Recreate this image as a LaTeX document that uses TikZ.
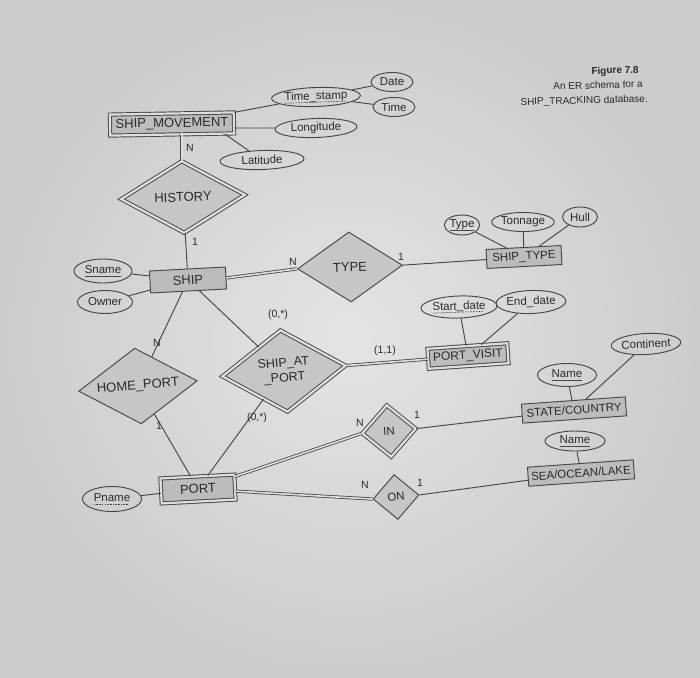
\documentclass[tikz,border=0pt]{standalone}
\usepackage{fontspec}
\setmainfont{Liberation Sans}
\usetikzlibrary{shapes.geometric}
\definecolor{bgc}{RGB}{222,222,224}
\definecolor{bgin}{RGB}{228,228,229}
\definecolor{bgout}{RGB}{204,204,208}
\definecolor{efill}{RGB}{188,188,190}
\definecolor{rfill}{RGB}{198,198,200}
\definecolor{lc}{RGB}{72,72,75}
\definecolor{tc}{RGB}{42,42,45}
\newcommand\dunder[1]{\setbox0\hbox{#1}\rlap{\raisebox{-2.6pt}{\hbox to \wd0{\color{lc}\leaders\hbox{\rule{1.6pt}{0.6pt}\hspace{1.1pt}}\hfill}}}\box0}
\newcommand\sunder[1]{\setbox0\hbox{#1}\rlap{\raisebox{-2.6pt}{\color{lc}\rule{\wd0}{0.6pt}}}\box0}
\tikzset{
  base/.style={draw=lc, line width=0.95pt, text=tc, inner sep=0pt},
  ent/.style={base, rectangle, fill=efill, font=\fontsize{13}{14}\selectfont},
  went/.style={ent, double=bgc, double distance=2.2pt},
  rel/.style={base, diamond, fill=rfill, aspect=1.6, font=\fontsize{13}{14}\selectfont},
  wrel/.style={rel, double=bgc, double distance=2.2pt},
  att/.style={base, ellipse, font=\fontsize{11.5}{13}\selectfont},
  card/.style={text=tc, inner sep=0pt, font=\fontsize{10.5}{12}\selectfont},
  capt/.style={text=tc, inner sep=0pt, anchor=base east, rotate=1.5, font=\fontsize{10}{12}\selectfont},
  ln/.style={draw=lc, line width=0.95pt},
  dln/.style={draw=lc, line width=0.8pt, double=bgc, double distance=1.6pt},
}
\begin{document}
\begin{tikzpicture}[x=1pt,y=-1pt]
\shade[inner color=bgin, outer color=bgout] (0,0) rectangle (700,677);
\useasboundingbox (0,0) rectangle (700,677);

% caption
\node[capt] (cap1) at (639,73) {\textbf{Figure 7.8}};
\node[capt] (cap2) at (643,87.5) {An ER schema for a};
\node[capt] (cap3) at (648,102) {SHIP\_TRACKING database.};

% entities
\node[went, minimum width=124, minimum height=21, rotate=1] (sm) at (172,124) {SHIP\_MOVEMENT};
\node[ent, minimum width=76, minimum height=22, rotate=3] (ship) at (188,280) {SHIP};
\node[ent, minimum width=75, minimum height=19, rotate=3, font=\fontsize{11.5}{12}\selectfont] (stype) at (524,257) {SHIP\_TYPE};
\node[went, minimum width=80, minimum height=20, rotate=4, font=\fontsize{12}{13}\selectfont] (pv) at (468,356) {PORT\_VISIT};
\node[went, minimum width=74, minimum height=25, rotate=3] (port) at (198,489) {PORT};
\node[ent, minimum width=104, minimum height=19, rotate=4, font=\fontsize{11.5}{12}\selectfont] (sc) at (574,410) {STATE/COUNTRY};
\node[ent, minimum width=106, minimum height=19, rotate=4, font=\fontsize{11.5}{12}\selectfont] (sol) at (581,473) {SEA/OCEAN/LAKE};

% relationships
\node[wrel, minimum width=124, minimum height=72, rotate=2] (hist) at (183,197) {HISTORY};
\node[rel, minimum width=105, minimum height=70, rotate=2] (type) at (350,267) {TYPE};
\node[wrel, minimum width=124, minimum height=82, rotate=5, align=center, font=\fontsize{12.5}{15}\selectfont] (sap) at (284,371) {SHIP\_AT\\\_PORT};
\node[rel, minimum width=119, minimum height=76, rotate=5] (hp) at (138,386) {HOME\_PORT};
\node[wrel, minimum width=54, minimum height=52, rotate=5, font=\fontsize{11.5}{12}\selectfont] (in) at (389,431) {IN};
\node[rel, minimum width=46, minimum height=45, rotate=5, font=\fontsize{11.5}{12}\selectfont] (on) at (396,497) {ON};

% attributes
\node[att, minimum width=86, minimum height=19, rotate=2] (ts) at (316,97) {\dunder{Time\_stamp}};
\node[att, minimum width=42, minimum height=19] (date) at (392,82) {Date};
\node[att, minimum width=42, minimum height=19] (time) at (394,107) {Time};
\node[att, minimum width=82, minimum height=19, rotate=2] (lon) at (316,128) {Longitude};
\node[att, minimum width=84, minimum height=19, rotate=2] (lat) at (262,160) {Latitude};
\node[att, minimum width=58, minimum height=24] (sname) at (103,271) {\sunder{Sname}};
\node[att, minimum width=55, minimum height=23] (owner) at (105,302) {Owner};
\node[att, minimum width=34, minimum height=20] (tty) at (462,225) {\sunder{Type}};
\node[att, minimum width=57, minimum height=19] (ton) at (523,222) {Tonnage};
\node[att, minimum width=35, minimum height=20] (hull) at (580,217) {Hull};
\node[att, minimum width=76, minimum height=22, rotate=2] (sd) at (459,307) {\dunder{Start\_date}};
\node[att, minimum width=57, minimum height=23, rotate=2] (ed) at (531,302) {End\_date};
\node[att, minimum width=56, minimum height=21, rotate=3] (cont) at (646,344) {Continent};
\node[att, minimum width=59, minimum height=23] (n1) at (567,375) {\sunder{Name}};
\node[att, minimum width=60, minimum height=20] (n2) at (575,441) {\sunder{Name}};
\node[att, minimum width=59, minimum height=25] (pname) at (112,499) {\dunder{Pname}};

% connectors
\draw[ln] (sm) -- (ts);
\draw[ln] (ts) -- (date);
\draw[ln] (ts) -- (time);
\draw[ln] (sm.east |- lon) -- (lon);
\draw[ln] ([xshift=-10pt]sm.south east) -- (lat);
\path[dln] (hist.north |- sm.south) -- (hist.north);
\draw[ln] (hist) -- (ship);
\draw[ln] (ship) -- (sname);
\draw[ln] (ship) -- (owner);
\path[dln] (ship.east) -- (type.west);
\draw[ln] (type.east) -- (stype);
\draw[ln] (stype) -- (tty);
\draw[ln] (stype) -- (ton);
\draw[ln] (stype) -- (hull);
\draw[ln] (ship) -- (sap);
\draw[ln] (ship) -- (hp);
\draw[ln] (hp) -- (port);
\draw[ln] (sap) -- (port);
\path[dln] (sap.east) -- (pv);
\draw[ln] (pv) -- (sd);
\draw[ln] (pv) -- (ed);
\path[dln] (port) -- (in.west);
\draw[ln] (in.east) -- (sc);
\draw[ln] (sc) -- (n1);
\draw[ln] (sc) -- (cont);
\path[dln] (port) -- (on.west);
\draw[ln] (on.east) -- (sol);
\draw[ln] (sol) -- (n2);
\draw[ln] (port) -- (pname);

% cardinalities
\node[card] (c1) at (190,148) {N};
\node[card] (c2) at (195,242) {1};
\node[card] (c3) at (293,262) {N};
\node[card] (c4) at (401,257) {1};
\node[card] (c5) at (278,315) {(0,*)};
\node[card] (c6) at (157,343) {N};
\node[card] (c7) at (159,426) {1};
\node[card] (c8) at (257,418) {(0,*)};
\node[card] (c9) at (385,351) {(1,1)};
\node[card] (c10) at (360,423) {N};
\node[card] (c11) at (417,415) {1};
\node[card] (c12) at (365,485) {N};
\node[card] (c13) at (420,483) {1};
\end{tikzpicture}
\end{document}
